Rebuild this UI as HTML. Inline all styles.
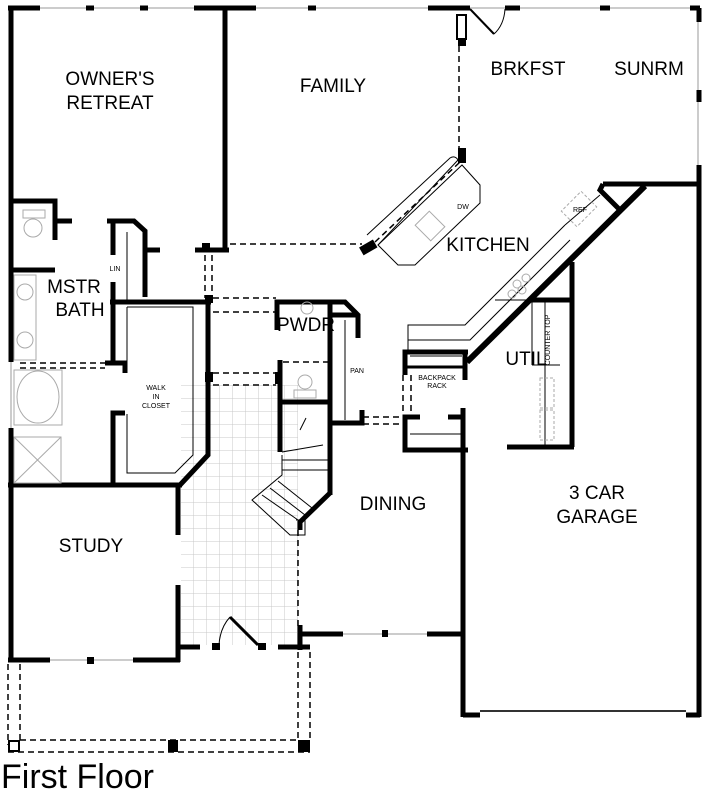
<!DOCTYPE html>
<html><head><meta charset="utf-8"><style>
html,body{margin:0;padding:0;background:#fff;}
svg{display:block;}
text{font-family:"Liberation Sans",Arial,sans-serif;fill:#000;}
</style></head><body>
<svg width="710" height="792" viewBox="0 0 710 792" xmlns="http://www.w3.org/2000/svg">
<defs>
<pattern id="tile" width="13" height="13" patternUnits="userSpaceOnUse" x="180" y="385">
<path d="M0 0H13M0 0V13" stroke="#c8c8c8" stroke-width="1" fill="none"/>
</pattern>
</defs>
<rect width="710" height="792" fill="#fff"/>
<rect x="181" y="385" width="117" height="260" fill="url(#tile)"/>
<rect x="210" y="310" width="70" height="75" fill="#fff"/>

<g stroke="#ccc" stroke-width="2" fill="none">
<line x1="10" y1="8" x2="697" y2="8"/>
<line x1="698" y1="8" x2="698" y2="165"/>
<line x1="50" y1="660" x2="133" y2="660"/>
<line x1="343" y1="634" x2="427" y2="634"/>
<line x1="11" y1="362" x2="11" y2="428"/>
</g>

<g stroke="#000" stroke-width="5" fill="none" stroke-linejoin="miter">
<line x1="8" y1="8" x2="40" y2="8"/>
<line x1="86" y1="8" x2="94" y2="8"/>
<line x1="140" y1="8" x2="148" y2="8"/>
<line x1="194" y1="8" x2="256" y2="8"/>
<line x1="308" y1="8" x2="316" y2="8"/>
<line x1="428" y1="8" x2="470" y2="8"/>
<line x1="505" y1="8" x2="520" y2="8"/>
<line x1="600" y1="8" x2="610" y2="8"/>
<line x1="690" y1="8" x2="700" y2="8"/>
<line x1="699" y1="8" x2="699" y2="22"/>
<line x1="699" y1="90" x2="699" y2="102"/>
<line x1="11" y1="8" x2="11" y2="362"/>
<line x1="11" y1="428" x2="11" y2="662"/>
<line x1="225" y1="8" x2="225" y2="250"/>
<line x1="195" y1="250" x2="229" y2="250"/>
<polyline points="11,201 55,201 55,240"/>
<line x1="55" y1="221" x2="72" y2="221"/>
<line x1="11" y1="270" x2="55" y2="270"/>
<polyline points="107,221 134,221 145,231 145,297"/>
<line x1="113" y1="221" x2="113" y2="255"/>
<line x1="145" y1="250" x2="160" y2="250"/>
<line x1="113" y1="282" x2="113" y2="365"/>
<line x1="110" y1="302" x2="211" y2="302"/>
<polyline points="105,363 125,363 125,373"/>
<polyline points="125,413 113,413 113,486"/>
<polyline points="208,300 208,455 180,485"/>
<line x1="8" y1="485" x2="182" y2="485"/>
<line x1="178" y1="485" x2="178" y2="535"/>
<line x1="178" y1="585" x2="178" y2="662"/>
<line x1="8" y1="660" x2="50" y2="660"/>
<line x1="133" y1="660" x2="180" y2="660"/>
<line x1="180" y1="647" x2="200" y2="647"/>
<line x1="278" y1="647" x2="310" y2="647"/>
<polyline points="277,330 277,302 345,302 358,315 358,338"/>
<line x1="330" y1="300" x2="330" y2="495"/>
<line x1="330" y1="315" x2="358" y2="315"/>
<line x1="280" y1="360" x2="280" y2="452"/>
<line x1="280" y1="402" x2="330" y2="402"/>
<polyline points="330,423 362,423 362,410"/>
<polyline points="330,493 300,522 300,530"/>
<polyline points="405,375 405,352 468,352"/>
<line x1="405" y1="367" x2="465" y2="367" stroke-width="3"/>
<polyline points="465,352 465,380"/>
<polyline points="420,417 405,417 405,450 468,450"/>
<polyline points="448,417 463,417 463,445"/>
<line x1="645" y1="186" x2="467" y2="362" stroke-width="6"/>
<polyline points="603,184 699,184"/>
<polyline points="603,184 600,190 620,210"/>
<line x1="572" y1="262" x2="572" y2="447"/>
<line x1="530" y1="300" x2="572" y2="300"/>
<line x1="507" y1="447" x2="574" y2="447"/>
<line x1="699" y1="165" x2="699" y2="717"/>
<line x1="463" y1="408" x2="463" y2="717"/>
<line x1="463" y1="715" x2="480" y2="715"/>
<line x1="686" y1="715" x2="700" y2="715"/>
<line x1="300" y1="634" x2="343" y2="634"/>
<line x1="427" y1="634" x2="465" y2="634"/>
<line x1="300" y1="625" x2="300" y2="650"/>
</g>
<line x1="480" y1="711" x2="686" y2="711" stroke="#333" stroke-width="2"/>

<g fill="#000">
<rect x="458" y="148" width="8" height="15"/>
<rect x="458" y="38" width="8" height="8"/>
<rect x="360" y="243" width="16" height="9" transform="rotate(-30 368 247)"/>
<rect x="87" y="657" width="7" height="7"/>
<rect x="212" y="643" width="8" height="7"/>
<rect x="258" y="643" width="8" height="7"/>
<rect x="382" y="630" width="6" height="7"/>
<rect x="168" y="740" width="10" height="12"/>
<rect x="298" y="740" width="12" height="12"/>
<rect x="202" y="243" width="8" height="6"/>
<rect x="205" y="295" width="8" height="8"/>
<rect x="205" y="372" width="8" height="10"/>
<rect x="275" y="372" width="6" height="12"/>
</g>
<rect x="9" y="741" width="10" height="10" fill="none" stroke="#000" stroke-width="2"/>
<rect x="457" y="15" width="9" height="24" fill="none" stroke="#000" stroke-width="2"/>
<g stroke="#000" fill="none">
<line x1="470" y1="9" x2="494" y2="34" stroke-width="2"/>
<path d="M494,34 Q504,25 505,9" stroke-width="1"/>
</g>

<g stroke="#000" stroke-width="1.5" fill="none" stroke-dasharray="6,4">
<line x1="230" y1="244" x2="362" y2="244"/>
<line x1="459" y1="46" x2="459" y2="148"/>
<line x1="375" y1="242" x2="460" y2="162"/>
<line x1="20" y1="363" x2="105" y2="363"/>
<line x1="20" y1="368" x2="105" y2="368"/>
<line x1="205" y1="255" x2="205" y2="298"/>
<line x1="212" y1="255" x2="212" y2="298"/>
<line x1="213" y1="298" x2="276" y2="298"/>
<line x1="213" y1="312" x2="276" y2="312"/>
<line x1="213" y1="373" x2="276" y2="373"/>
<line x1="213" y1="385" x2="276" y2="385"/>
<line x1="283" y1="362" x2="328" y2="362"/>
<line x1="363" y1="417" x2="400" y2="417"/>
<line x1="363" y1="424" x2="400" y2="424"/>
<line x1="403" y1="375" x2="403" y2="415"/>
<line x1="411" y1="375" x2="411" y2="415"/>
<line x1="298" y1="530" x2="298" y2="630"/>
<line x1="8" y1="664" x2="8" y2="745"/>
<line x1="20" y1="664" x2="20" y2="740"/>
<line x1="298" y1="652" x2="298" y2="740"/>
<line x1="310" y1="652" x2="310" y2="740"/>
<line x1="20" y1="740" x2="298" y2="740"/>
<line x1="8" y1="752" x2="310" y2="752"/>
</g>

<g stroke="#000" stroke-width="1" fill="none">
<path d="M367,235 L450,158 Q455,155 458,160 L378,245"/>
<polygon points="378,245 462,165 480,185 480,203 415,265 398,265"/>
<line x1="127" y1="232" x2="127" y2="300"/>
<line x1="127" y1="307" x2="127" y2="365"/>
<polyline points="127,307 193,307 193,455 175,473 127,473 127,414"/>
<line x1="345" y1="320" x2="345" y2="420"/>
<polyline points="408,352 408,325 465,325 565,225"/>
<polyline points="408,340 470,340 570,240"/>
<line x1="565" y1="225" x2="600" y2="195"/>
<line x1="495" y1="300" x2="532" y2="300"/>
<line x1="545" y1="302" x2="545" y2="445"/>
<line x1="532" y1="302" x2="532" y2="365"/>
<line x1="532" y1="365" x2="560" y2="365"/>
<line x1="410" y1="356" x2="462" y2="356"/>
<line x1="410" y1="434" x2="462" y2="434"/>
<polyline points="282,452 323,445"/>
<line x1="282" y1="460" x2="328" y2="460"/>
<line x1="282" y1="470" x2="328" y2="470"/>
<polyline points="282,455 282,475 252,500 290,535 305,535 305,520 296,520"/>
<line x1="262" y1="495" x2="298" y2="520"/>
<line x1="270" y1="488" x2="305" y2="515"/>
<line x1="278" y1="481" x2="312" y2="508"/>
<path d="M300,430 L306,418"/>
<line x1="258" y1="645" x2="230" y2="617" stroke-width="3"/>
<path d="M230,617 Q220,628 219,645"/>
</g>
<g stroke="#aaa" stroke-width="1" fill="none">
<rect x="23" y="210" width="22" height="8"/>
<circle cx="33" cy="228" r="9"/>
<rect x="14" y="275" width="22" height="85"/>
<circle cx="25" cy="292" r="8"/>
<circle cx="25" cy="340" r="8"/>
<rect x="14" y="370" width="48" height="55"/>
<ellipse cx="38" cy="397" rx="21" ry="26"/>
<rect x="14" y="437" width="47" height="46"/>
<line x1="14" y1="437" x2="61" y2="483"/><line x1="61" y1="437" x2="14" y2="483"/>
<circle cx="305" cy="382" r="7"/>
<rect x="294" y="390" width="22" height="8"/>
<circle cx="307" cy="308" r="6"/>
<rect x="420" y="215" width="20" height="22" transform="rotate(-45 430 226)"/>
<circle cx="517" cy="284" r="4"/><circle cx="526" cy="278" r="4"/>
<circle cx="512" cy="294" r="4"/><circle cx="522" cy="290" r="4"/>
<rect x="540" y="378" width="14" height="30" stroke-dasharray="3,2"/>
<rect x="540" y="410" width="14" height="30" stroke-dasharray="3,2"/>
<rect x="568" y="195" width="22" height="28" transform="rotate(45 579 209)" stroke-dasharray="3,2"/>
</g>

<g font-size="19" text-anchor="middle">
<text x="110" y="85">OWNER'S</text>
<text x="110" y="109">RETREAT</text>
<text x="333" y="92">FAMILY</text>
<text x="528" y="75">BRKFST</text>
<text x="649" y="75">SUNRM</text>
<text x="488" y="251">KITCHEN</text>
<text x="74" y="293">MSTR</text>
<text x="80" y="316">BATH</text>
<text x="306" y="331">PWDR</text>
<text x="526" y="365">UTIL</text>
<text x="393" y="510">DINING</text>
<text x="597" y="499">3 CAR</text>
<text x="597" y="523">GARAGE</text>
<text x="91" y="552">STUDY</text>
</g>
<g font-size="7" text-anchor="middle">
<text x="115" y="271">LIN</text>
<text x="156" y="390">WALK</text>
<text x="156" y="399">IN</text>
<text x="156" y="408">CLOSET</text>
<text x="357" y="373">PAN</text>
<text x="437" y="380">BACKPACK</text>
<text x="437" y="388">RACK</text>
<text x="463" y="209">DW</text>
<text x="580" y="212">REF</text>
<text x="550" y="340" transform="rotate(-90 550 340)">COUNTER TOP</text>
</g>
<text x="1" y="788" font-size="34">First Floor</text>
</svg>
</body></html>
